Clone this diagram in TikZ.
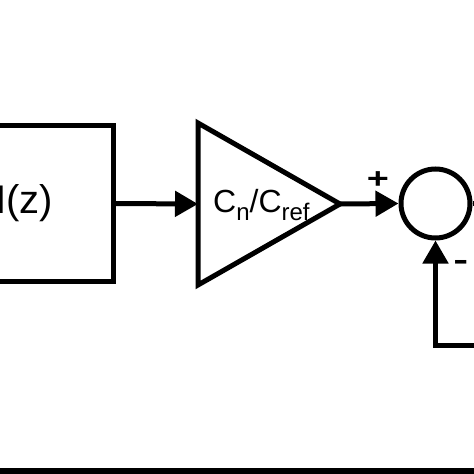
\documentclass[tikz,border=0pt]{standalone}
\usepackage{fontspec}
\setmainfont{Liberation Sans}
\usetikzlibrary{arrows.meta}
\newcommand{\mysub}[1]{\raisebox{-8pt}{\fontsize{24}{26}\selectfont #1}}
\begin{document}
\begin{tikzpicture}[x=1pt,y=-1pt,
  thick line/.style={line width=5pt},
  arr/.style={thick line,-{Triangle[length=23pt,width=25pt]}},
  lbl/.style={font=\fontsize{32}{36}\selectfont, inner sep=0pt}]
\useasboundingbox (0,0) rectangle (474,474);
\clip (0,0) rectangle (474,474);
\fill[white] (0,0) rectangle (474,474);
% block H(z)
\node[draw, thick line, minimum width=170pt, minimum height=156pt, inner sep=0pt] (hbox) at (28,203.5) {};
\node[lbl, font=\fontsize{40}{44}\selectfont, anchor=base west] (hz) at (-23,213) {H(z)};
% amplifier
\coordinate (ampin) at (198,204);
\coordinate (ampout) at (340,204);
\draw[thick line, line join=miter] (198,123) -- (ampout) -- (198,285) -- cycle;
\node[lbl, anchor=base west] (gain) at (213,212) {C\mysub{n}/C\mysub{ref}};
% summing junction
\node[draw, thick line, circle, minimum size=69pt, inner sep=0pt] (sum) at (435.5,203.5) {};
\coordinate (out) at (490,203.5);
\coordinate (fb) at (490,345);
% connectors
\draw[arr] (hbox.east) -- (ampin);
\draw[arr] (ampout) -- (sum.west);
\draw[thick line] (sum.east) -- (out);
\draw[arr] (fb) -| (sum.south);
\node[lbl, font=\fontsize{36}{40}\bfseries] (plus) at (378,180) {\scalebox{1.05}[0.8]{+}};
\node[lbl, font=\fontsize{46}{48}\selectfont] (minus) at (461,267) {-};
% bottom rule
\fill (0,468) rectangle (474,474);
\end{tikzpicture}
\end{document}
